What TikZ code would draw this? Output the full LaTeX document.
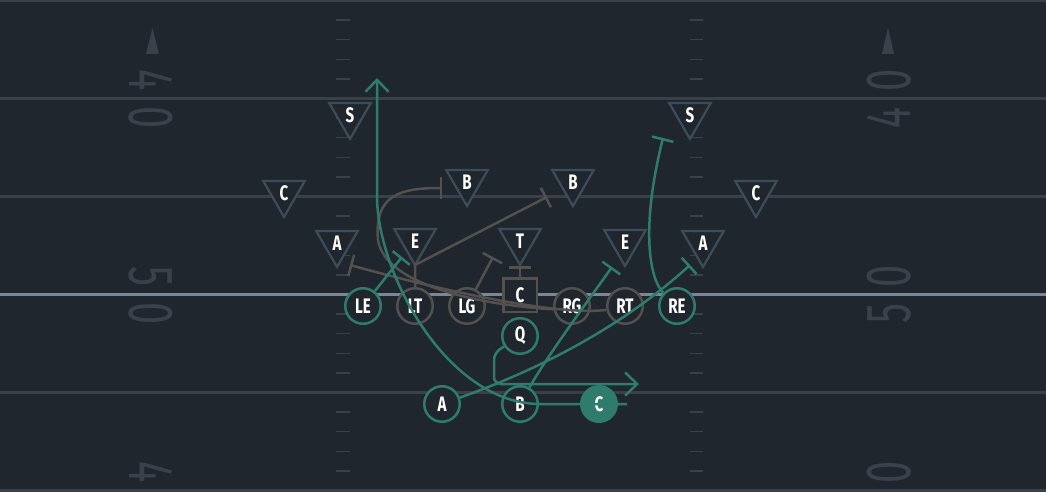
\documentclass[tikz,border=0pt]{standalone}
\usepackage{fontspec}
\usetikzlibrary{arrows.meta,shapes.geometric}
\newfontfamily\labelFont{Fira Sans}[FakeStretch=0.72]
\newfontfamily\yardFont{Fira Sans}[FakeStretch=0.62]
\definecolor{fieldBg}{RGB}{31,38,46}
\definecolor{fieldLine}{RGB}{57,64,73}
\definecolor{midLine}{RGB}{122,136,150}
\definecolor{yardGray}{RGB}{58,65,74}
\definecolor{defSlate}{RGB}{62,76,90}
\definecolor{playTeal}{RGB}{47,124,109}
\definecolor{blockGray}{RGB}{82,81,80}

\tikzset{
  player/.style={circle, minimum size=35.5pt, inner sep=0pt, line width=2.5pt,
    draw=playTeal, fill=fieldBg, text=white,
    font=\labelFont\bfseries\fontsize{21}{21}\selectfont},
  lineman/.style={player, draw=blockGray},
  snapper/.style={lineman, rectangle, minimum size=33.5pt},
  defender/.style={regular polygon, regular polygon sides=3, shape border rotate=180,
    minimum size=48pt, inner sep=0pt, line width=2.2pt, draw=defSlate, fill=fieldBg,
    text=white, font=\labelFont\bfseries\fontsize{21}{21}\selectfont},
  yardNum/.style={text=yardGray, inner sep=0pt, font=\yardFont\fontsize{64}{64}\selectfont},
  route/.style={line width=2.5pt, draw=playTeal},
  block/.style={line width=2.5pt, draw=blockGray},
  stopBar/.style={-{Bar[width=22pt]}},
  runArrow/.style={-{Straight Barb[length=12pt,width=23pt]}}
}

\begin{document}
\begin{tikzpicture}[x=1pt, y=-1pt]
\useasboundingbox (0,0) rectangle (1046,492);
\fill[fieldBg] (0,0) rectangle (1046,492);

% hash marks and yard lines
\foreach \k in {1,...,24}
  \draw[fieldLine, line width=1.5pt] (336,0.5+19.6*\k) -- (350,0.5+19.6*\k)
    (690,0.5+19.6*\k) -- (703,0.5+19.6*\k);
\foreach \yl in {0.5,98.5,196.5,392.5,490.5}
  \draw[fieldLine, line width=2.5pt] (0,\yl) -- (1046,\yl);
\draw[midLine, line width=2.5pt] (0,294.5) -- (1046,294.5);

% yard numbers
\node[yardNum, rotate=-90] (l4top) at (151,80) {4};
\node[yardNum, rotate=-90] (l0top) at (151,118) {0};
\node[yardNum, rotate=-90] (l5mid) at (151,276) {5};
\node[yardNum, rotate=-90] (l0mid) at (151,314) {0};
\node[yardNum, rotate=-90] (l4bot) at (151,472) {4};
\node[yardNum, rotate=90] (r0top) at (889,80) {0};
\node[yardNum, rotate=90] (r4top) at (889,118) {4};
\node[yardNum, rotate=90] (r0mid) at (889,276) {0};
\node[yardNum, rotate=90] (r5mid) at (889,314) {5};
\node[yardNum, rotate=90] (r0bot) at (889,472) {0};
\fill[yardGray] (146,54) -- (152.5,28) -- (159,54) -- cycle;
\fill[yardGray] (882,54) -- (888,28) -- (894,54) -- cycle;

% defense
\node[defender] (sL) at (350,115) {S};
\node[defender] (sR) at (690,115) {S};
\node[defender] (cbL) at (284,193) {C};
\node[defender] (cbR) at (756,193) {C};
\node[defender] (lbL) at (467,182) {B};
\node[defender] (lbR) at (573,182) {B};
\node[defender] (aL) at (337,243) {A};
\node[defender] (eL) at (415,241) {E};
\node[defender] (nt) at (520,241) {T};
\node[defender] (eR) at (625,242) {E};
\node[defender] (aR) at (703,243) {A};

% offense
\node[player] (LE) at (363,306) {LE};
\node[lineman] (LT) at (415,306) {LT};
\node[lineman] (LG) at (467,306) {LG};
\node[snapper] (cSq) at (520,295) {C};
\node[lineman] (RG) at (572,306) {RG};
\node[lineman] (RT) at (625,306) {RT};
\node[player] (RE) at (677,306) {RE};
\node[player] (Q) at (520,336) {Q};
\node[player] (A) at (442,404) {A};
\node[player] (B) at (520,404) {B};
\node[player, fill=playTeal] (C) at (599,404) {C};

% route ends
\coordinate (tAL) at (350,265);
\coordinate (tBL) at (442,188);
\coordinate (tBR) at (547,197);
\coordinate (ltKnee) at (415,265);
\coordinate (tNT) at (493,257);
\coordinate (tCen) at (520,266);
\coordinate (tLE) at (402,257);
\coordinate (tAR) at (690,265);
\coordinate (tER) at (612,267);
\coordinate (tSR) at (663,138);
\coordinate (cStart) at (627,404);
\coordinate (cEnd) at (377,78);
\coordinate (qEnd) at (639,384);

% blocking
\draw[block, stopBar] (RT.192) .. controls (555,316) and (440,290) .. (tAL);
\draw[block, stopBar] (RG.190) .. controls (480,305) and (385,285) .. (378,240)
  .. controls (374,195) and (400,188) .. (tBL);
\draw[block, stopBar] (LT) -- (ltKnee) -- (tBR);
\draw[block, stopBar] (LG) -- (tNT);
\draw[block, stopBar] (cSq) -- (tCen);

% routes
\draw[route, stopBar] (LE) -- (tLE);
\draw[route, stopBar] (A) .. controls (560,362) and (635,315) .. (tAR);
\draw[route, stopBar] (B) .. controls (548,355) and (585,305) .. (tER);
\draw[route, stopBar] (RE) .. controls (650,280) and (640,230) .. (tSR);
\draw[route, runArrow] (cStart) -- (540,404) .. controls (450,404) and (380,280) .. (377,200) -- (cEnd);
\draw[route, runArrow] (Q) [rounded corners=7pt] -- (494,353) -- (494,384) -- (qEnd);

\end{tikzpicture}
\end{document}
